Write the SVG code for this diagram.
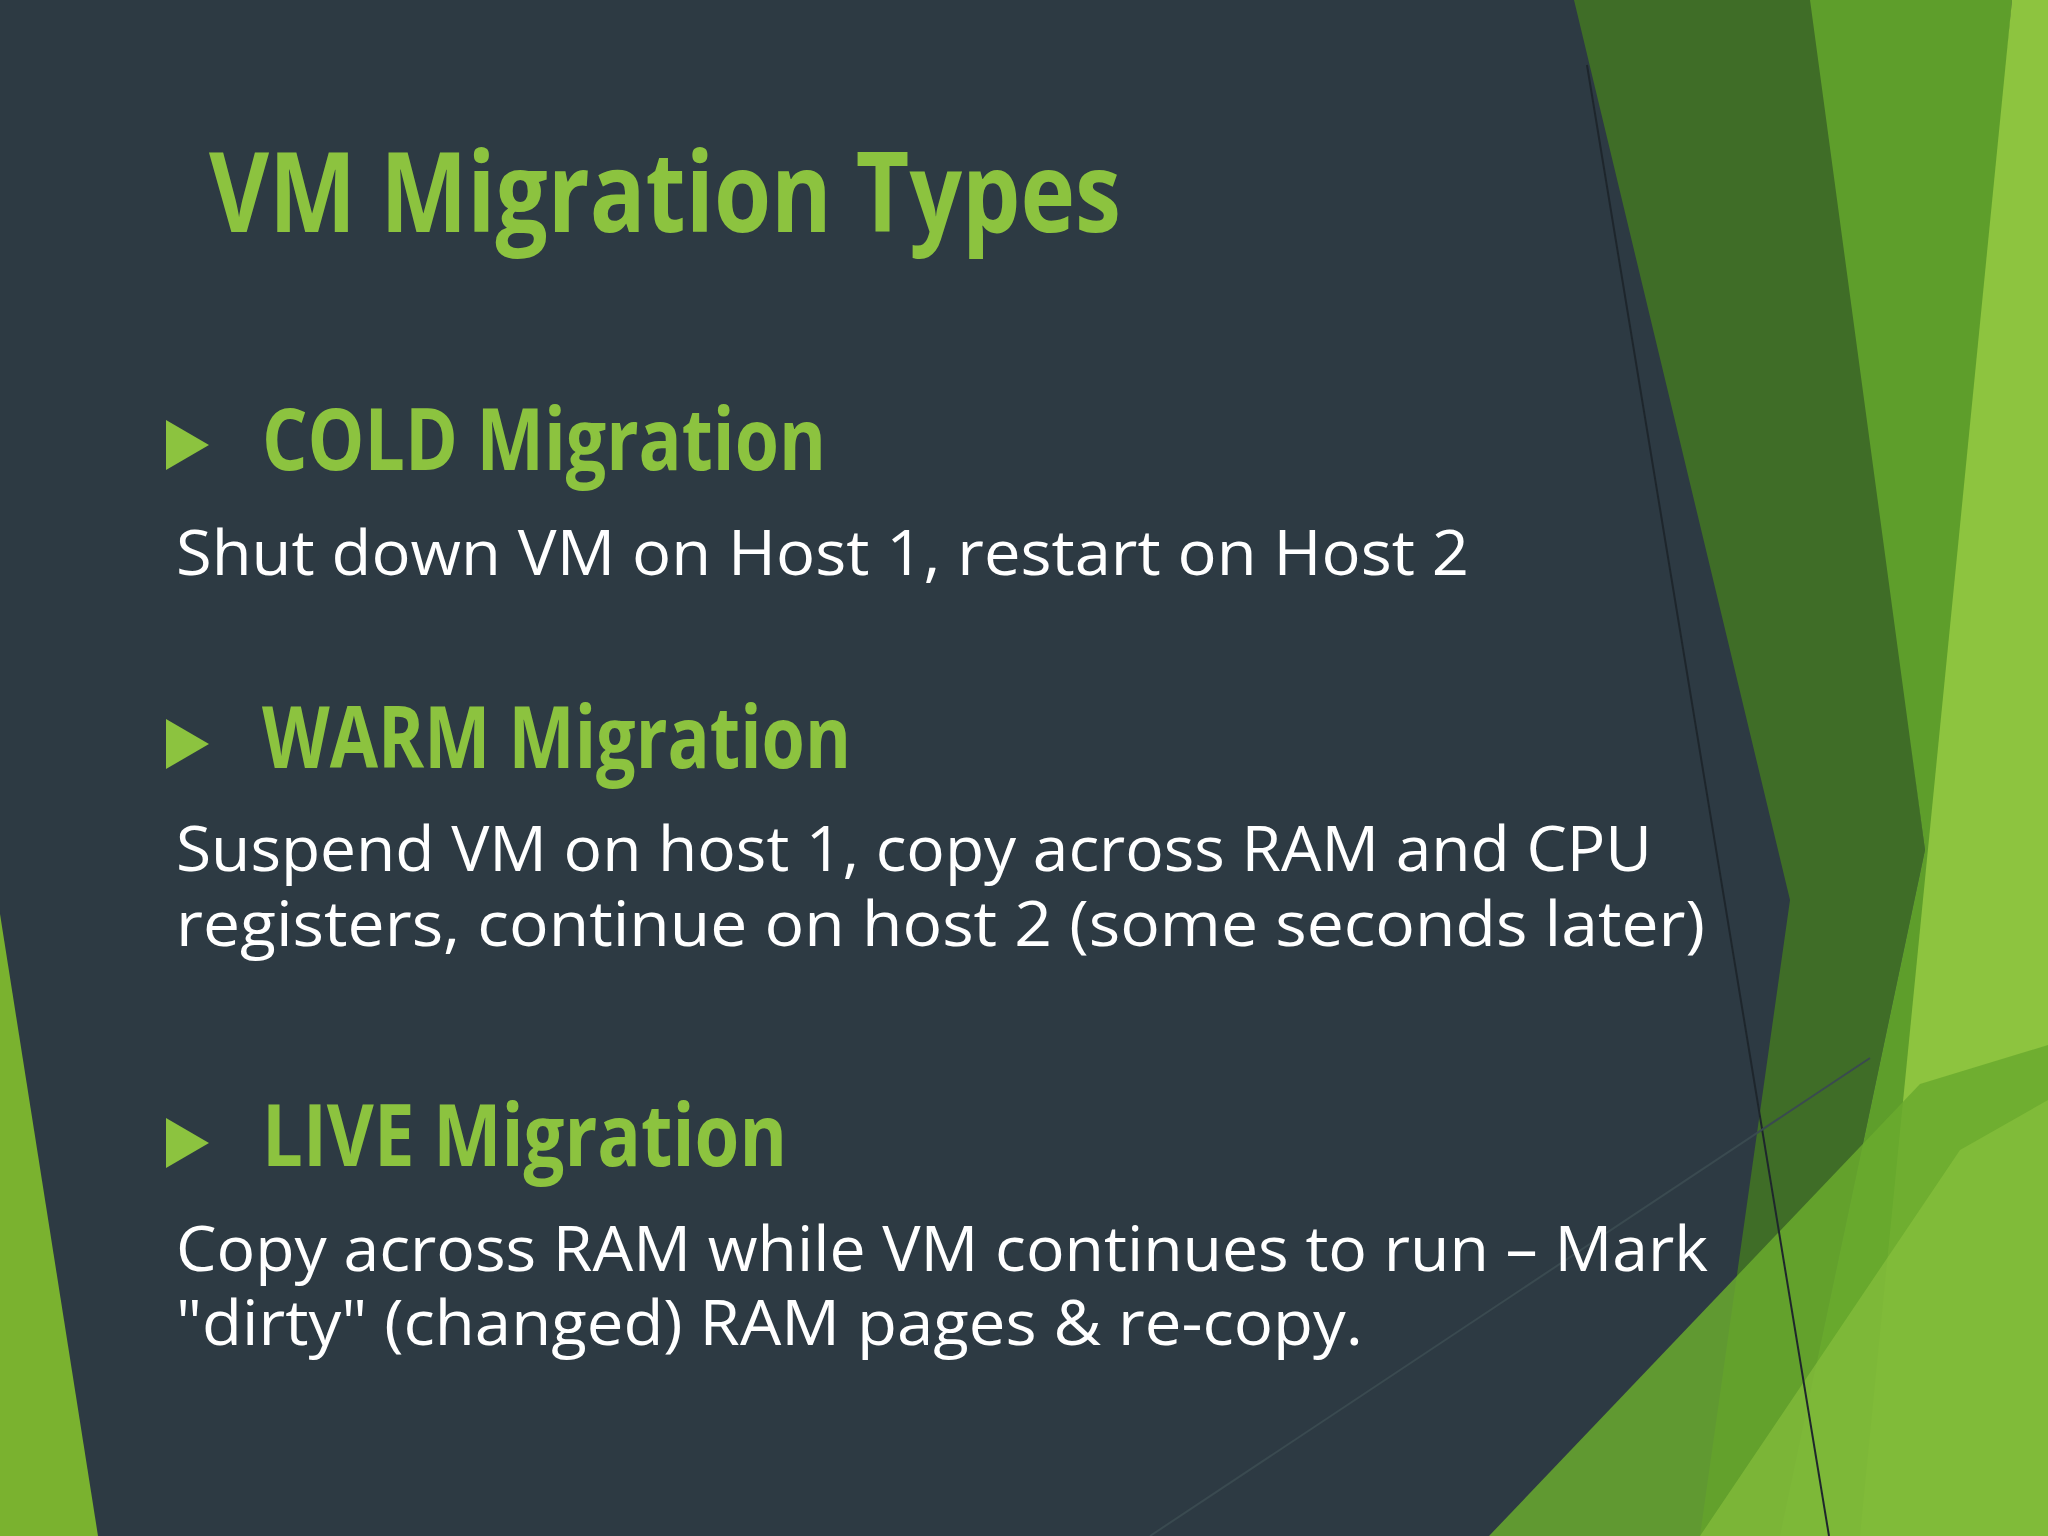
<svg xmlns="http://www.w3.org/2000/svg" width="2048" height="1536" viewBox="0 0 2048 1536">
<style>
.t{font-family:"Open Sans","DejaVu Sans",sans-serif;}
.title{fill:#8cc33f;font-weight:bold;font-size:112px;}
.head{fill:#8cc33f;font-weight:bold;font-size:86px;}
.body{fill:#ffffff;font-size:62px;}
.bul{fill:#8cc33f;}
</style>
<rect width="2048" height="1536" fill="#2d3a43"/>
<g id="decor">
<polygon points="0,914 98,1536 0,1536" fill="#7ab22f"/>
<polygon points="1574,0 1815,0 1925,850 1780,1536 1700,1536 1790,900" fill="#3f6d27"/>
<polygon points="1810,0 2012,0 1880,1536 1780,1536 1925,850" fill="#5e9e2b"/>
<polygon points="2012,0 2048,0 2048,1536 1860,1536" fill="#8dc43f"/>
<polygon points="1489,1536 1920,1084 2048,1045 2048,1536" fill="#6aaa2e" opacity="0.85"/>
<polygon points="1700,1536 1960,1150 2048,1100 2048,1536" fill="#8cc33f" opacity="0.6"/>
<line x1="1587" y1="65" x2="1829" y2="1536" stroke="#1e262c" stroke-width="2"/>
<line x1="1150" y1="1536" x2="1870" y2="1058" stroke="#3a4a50" stroke-width="2"/>
</g>
<g id="title"><text class="t title" x="209" y="232" textLength="912" lengthAdjust="spacingAndGlyphs">VM Migration Types</text></g>
<g id="cold">
<polygon class="bul" points="166,420 209,445 166,470"/>
<text class="t head" x="262" y="470" textLength="564" lengthAdjust="spacingAndGlyphs">COLD Migration</text>
<text class="t body" x="176" y="575" textLength="1293" lengthAdjust="spacingAndGlyphs">Shut down VM on Host 1, restart on Host 2</text>
</g>
<g id="warm">
<polygon class="bul" points="166,719 209,744 166,769"/>
<text class="t head" x="262" y="768" textLength="589" lengthAdjust="spacingAndGlyphs">WARM Migration</text>
<text class="t body" x="176" y="871" textLength="1476" lengthAdjust="spacingAndGlyphs">Suspend VM on host 1, copy across RAM and CPU</text>
<text class="t body" x="176" y="946" textLength="1529" lengthAdjust="spacingAndGlyphs">registers, continue on host 2 (some seconds later)</text>
</g>
<g id="live">
<polygon class="bul" points="166,1118 209,1143 166,1168"/>
<text class="t head" x="262" y="1166" textLength="525" lengthAdjust="spacingAndGlyphs">LIVE Migration</text>
<text class="t body" x="176" y="1271" textLength="1532" lengthAdjust="spacingAndGlyphs">Copy across RAM while VM continues to run – Mark</text>
<text class="t body" x="176" y="1345" textLength="1187" lengthAdjust="spacingAndGlyphs">"dirty" (changed) RAM pages &amp; re-copy.</text>
</g>
</svg>
